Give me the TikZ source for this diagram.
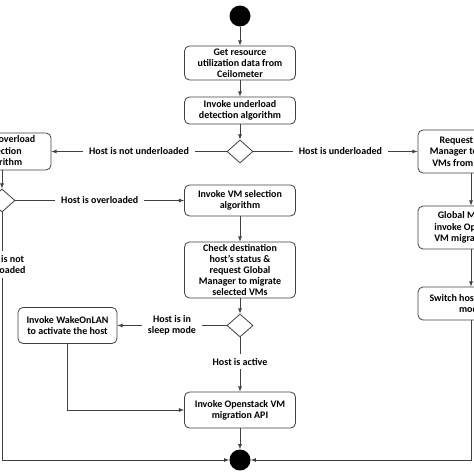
\documentclass[tikz,border=0pt]{standalone}
\usepackage{fontspec}
\setmainfont{Carlito}
\usetikzlibrary{shapes.geometric}

\begin{document}
\begin{tikzpicture}[x=1pt, y=-1pt, >=latex,
		font=\fontsize{10}{11.2}\selectfont\bfseries,
		act/.style={draw=black!75, line width=0.8pt, rounded corners=5pt, align=center, minimum width=111pt, inner sep=1pt},
		dec/.style={draw=black!75, line width=0.8pt, diamond, minimum width=26pt, minimum height=23pt, inner sep=0pt},
		dot/.style={circle, fill=black, minimum size=21pt, inner sep=0pt},
		flow/.style={->, draw=black!75, line width=0.8pt},
		lbl/.style={fill=white, align=center, inner xsep=6pt, inner ysep=4pt}]
		\useasboundingbox (0,0) rectangle (474,474);

		\node(start) at (240,16) [dot] {};
		\node(get) at (240,63) [act, minimum height=34pt] {Get resource\\utilization data from\\Ceilometer};
		\node(under) at (240,110.5) [act, minimum height=27pt] {Invoke underload\\detection algorithm};
		\node(d1) at (240,151.5) [dec] {};
		\node(over) at (2,151.5) [act, minimum width=98pt, minimum height=37pt] {Invoke overload\\detection\\algorithm};
		\node(req) at (471,151.5) [act, minimum width=106pt, minimum height=43pt] {Request Global\\Manager to migrate\\VMs from the host};
		\node(glob) at (471,227.5) [act, minimum width=106pt, minimum height=43pt] {Global Manager\\invoke Openstack\\VM migration API};
		\node(sw) at (471,303.5) [act, minimum width=106pt, minimum height=33pt] {Switch host to sleep\\mode};
		\node(d2) at (2,200.5) [dec] {};
		\node(vmsel) at (240,200.5) [act, minimum height=31pt] {Invoke VM selection\\algorithm};
		\node(check) at (240,270) [act, minimum height=56pt] {Check destination\\host's status \&\\request Global\\Manager to migrate\\selected VMs};
		\node(d3) at (240,325.5) [dec] {};
		\node(wake) at (67.5,325.5) [act, minimum width=99pt, minimum height=36pt] {Invoke WakeOnLAN\\to activate the host};
		\node(api) at (240,410) [act, minimum height=36pt] {Invoke Openstack VM\\migration API};
		\node(end) at (240,460) [dot] {};

		\draw[flow] (start) -- (get);
		\draw[flow] (get) -- (under);
		\draw[flow] (under) -- (d1);
		\draw[flow] (d1) -- node[lbl] {Host is not underloaded} (over);
		\draw[flow] (d1) -- node[lbl, pos=0.53] {Host is underloaded} (req);
		\draw[flow] (over) -- (d2);
		\draw[flow] (d2) -- node[lbl] {Host is overloaded} (vmsel);
		\draw[flow] (d2) |- node[lbl, pos=0.105] {Host is not\\overloaded} (end);
		\draw[flow] (vmsel) -- (check);
		\draw[flow] (check) -- (d3);
		\draw[flow] (d3) -- node[lbl] {Host is in\\sleep mode} (wake);
		\draw[flow] (d3) -- node[lbl, pos=0.45] {Host is active} (api);
		\draw[flow] (wake) |- (api);
		\draw[flow] (api) -- (end);
		\draw[flow] (req) -- (glob);
		\draw[flow] (glob) -- (sw);
		\draw[flow] (sw) |- (end);
	\end{tikzpicture}
\end{document}
